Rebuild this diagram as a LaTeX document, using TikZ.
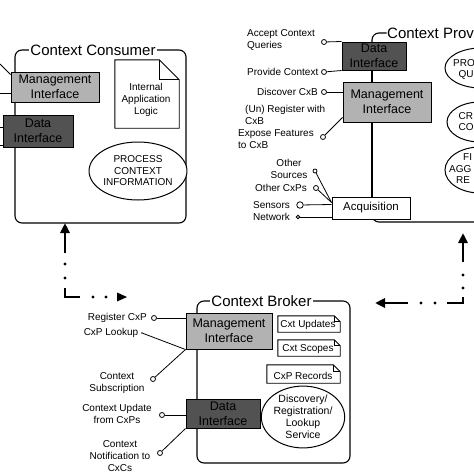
\documentclass[tikz,border=0pt]{standalone}
\usepackage{fontspec}
\setmainfont{Liberation Sans}
\usetikzlibrary{shapes.geometric,arrows.meta,calc}
\newcommand{\docframe}[2]{%
  \draw[line width=0.9pt, fill=white] (#1.north west) -- ($(#1.north east)+(-#2,0)$) -- ($(#1.north east)+(0,#2)$) -- (#1.south east) -- (#1.south west) -- cycle;
  \draw[line width=0.8pt] ($(#1.north east)+(-#2,0)$) -- ($(#1.north east)+(-#2,#2)$) -- ($(#1.north east)+(0,#2)$);}
\begin{document}
\begin{tikzpicture}[x=1pt,y=-1pt,
  box/.style={line width=1.1pt, rounded corners=7pt},
  mgmt/.style={draw, line width=1pt, fill=black!30, align=center, inner sep=0pt, font=\fontsize{12.5}{15}\selectfont},
  datai/.style={draw, line width=1pt, fill=black!68, align=center, inner sep=0pt, font=\fontsize{12.5}{15}\selectfont},
  plainbox/.style={draw, line width=1pt, fill=white, align=center, inner sep=0pt, font=\fontsize{11.5}{13}\selectfont},
  oval/.style={draw, ellipse, line width=1pt, fill=white, align=center, inner sep=0pt, font=\fontsize{10}{11.5}\selectfont},
  lbl/.style={inner sep=0pt, font=\fontsize{10}{12}\selectfont},
  edgetext/.style={inner sep=0pt, anchor=west, font=\fontsize{10}{12}\selectfont},
  port/.style={circle, draw, fill=white, line width=0.8pt, inner sep=0pt, minimum size=5pt},
  tinyport/.style={circle, fill, inner sep=0pt, minimum size=1.8pt},
  conn/.style={line width=0.8pt},
  ttl/.style={inner sep=1.5pt, font=\fontsize{15}{17}\selectfont},
  docarea/.style={inner sep=0pt},
  doctext/.style={inner sep=0pt, align=center, font=\fontsize{10}{12}\selectfont},
  big/.style={line width=2.6pt},
  bigtip/.style={-{Triangle[length=10pt,width=9pt]}},
  dotmark/.style={circle, fill, inner sep=0pt, minimum size=3.4pt}
]
\useasboundingbox (0,0) rectangle (474,474);
\clip (0,0) rectangle (474,474);

% ---------------- Context Consumer ----------------
\node[ttl] (cct) at (93,50) {Context Consumer};
\draw[box] (cct.west) -- (15,50) -- (15,223) -- (186,223) -- (186,50) -- (cct.east);

\coordinate (cl1) at (0,64);
\coordinate (cl2) at (0,93);
\coordinate (cl3) at (0,127);
\coordinate (cl4) at (0,145);

\node[mgmt, minimum width=88pt, minimum height=30pt] (cm) at (55,87) {Management\\Interface};
\node[datai, minimum width=70pt, minimum height=32pt] (cd) at (38,131) {Data\\Interface};
\draw[conn] (cl1) -- ($(cm.north west)+(0,3)$);
\draw[conn] (cl2) -- (cl2 -| cm.west);
\draw[conn] (cl3) -- (cl3 -| cd.west);
\draw[conn] (cl4) -- (cl4 -| cd.west);

\node[docarea, minimum width=64pt, minimum height=68pt] (ial) at (147,94) {};
\docframe{ial}{20}
\node[doctext] (ialt) at (146,100) {Internal\\Application\\Logic};

\node[oval, minimum width=83pt, minimum height=58pt] (pci) at (138,171) {PROCESS\\CONTEXT\\INFORMATION};

% ---------------- Context Provider ----------------
\node[ttl, anchor=west, inner sep=0.5pt] (cpt) at (386.5,33) {Context Prov};
\draw[box] (cpt.west) -- (372,33) -- (372,222) -- (490,222);

\node[oval, minimum width=72pt, minimum height=40pt] (pe1) at (481,68) {};
\node[oval, minimum width=66pt, minimum height=40pt] (pe2) at (480,122) {};
\node[oval, minimum width=70pt, minimum height=46pt] (pe3) at (480,170) {};
\node[edgetext] (pe1a) at (453,63) {PRO};
\node[edgetext] (pe1b) at (458.5,75) {QU};
\node[edgetext] (pe2a) at (458.5,116) {CR};
\node[edgetext] (pe2b) at (458.5,127.5) {CO};
\node[edgetext] (pe3a) at (463,157.5) {FI};
\node[edgetext] (pe3b) at (449,169) {AGG};
\node[edgetext] (pe3c) at (456,180.5) {RE};

\node[datai, minimum width=64pt, minimum height=28pt] (pdi) at (374,56) {Data\\Interface};
\node[mgmt, minimum width=88pt, minimum height=40pt] (pmi) at (387,102) {Management\\Interface};
\node[plainbox, minimum width=78pt, minimum height=22pt] (acq) at (371,208) {Acquisition};

\draw[line width=1.1pt] (pdi.south -| 372,0) -- (pmi.north -| 372,0);
\draw[line width=1.1pt] (pmi.south -| 372,0) -- (acq.north -| 372,0);

\node[lbl, anchor=north west, align=left] (l1) at (247,29) {Accept Context\\Queries};
\node[lbl, anchor=west] (l2) at (247,72) {Provide Context};
\node[lbl, anchor=west] (l3) at (257,92) {Discover CxB};
\node[lbl, anchor=north west, align=left] (l4) at (245,105) {(Un) Register with\\CxB};
\node[lbl, anchor=north west, align=left] (l5) at (238,129) {Expose Features\\to CxB};
\node[lbl, align=center] (l6) at (289,169) {Other\\Sources};
\node[lbl, anchor=west] (l7) at (255,188) {Other CxPs};
\node[lbl, anchor=west] (l8) at (253,205) {Sensors};
\node[lbl, anchor=west] (l9) at (253,217) {Network};

\node[port] (p1) at (324,42) {};
\node[port] (p2) at (324,72) {};
\node[port] (p3) at (324,92) {};
\node[port] (p4) at (323,137) {};
\node[port, minimum size=4pt] (p5) at (315,171) {};
\node[port] (p6) at (316,188) {};
\node[port, minimum size=6.5pt] (p7) at (300,205) {};
\node[port, minimum size=3.5pt] (p8) at (298,217) {};

\draw[conn] (p1) -- (pdi.north west);
\draw[conn] (p2) -- (pdi.south west);
\draw[conn] (p3) -- (p3 -| pmi.west);
\draw[conn] (p4) -- ($(pmi.south west)+(0,-5)$);
\draw[conn] (p5) -- ($(acq.north west)+(0,6)$);
\draw[conn] (p6) -- ($(acq.north west)+(0,6)$);
\draw[conn] (p7) -- ($(acq.north west)+(0,8)$);
\draw[conn] (p8) -- (p8 -| acq.west);

% ---------------- Context Broker ----------------
\node[ttl] (cbt) at (261.5,301) {Context Broker};
\draw[box] (cbt.west) -- (197,301) -- (197,463) -- (350,463) -- (350,301) -- (cbt.east);

\node[mgmt, minimum width=86pt, minimum height=36pt] (bmi) at (229,331) {Management\\Interface};
\node[datai, minimum width=74pt, minimum height=29pt] (bdi) at (223,413.5) {Data\\Interface};

\node[docarea, minimum width=62pt, minimum height=16pt] (d1) at (309,324) {};
\docframe{d1}{6}
\node[doctext] (d1t) at (308,325) {Cxt Updates};
\node[docarea, minimum width=62pt, minimum height=16pt] (d2) at (309,348) {};
\docframe{d2}{6}
\node[doctext] (d2t) at (308,349) {Cxt Scopes};
\node[docarea, minimum width=73pt, minimum height=18pt] (d3) at (303.5,374) {};
\docframe{d3}{7}
\node[doctext] (d3t) at (303,375.5) {CxP Records};

\node[oval, minimum width=73pt, minimum height=50pt, font=\fontsize{10.5}{12}\selectfont] (bdr) at (303,417) {Discovery/\\Registration/\\Lookup\\Service};

\node[lbl, anchor=east] (b1) at (147,318) {Register CxP};
\node[lbl] (b2) at (111,333) {CxP Lookup};
\node[lbl, align=center] (b3) at (117,383) {Context\\Subscription};
\node[lbl, align=center] (b4) at (117,413.5) {Context Update\\from CxPs};
\node[lbl, align=center] (b5) at (120,456) {Context\\Notification to\\CxCs};

\node[port] (q1) at (154,318) {};
\node[tinyport] (q2) at (142,333) {};
\node[port] (q3) at (153,379) {};
\node[port] (q4) at (162,415) {};
\node[port] (q5) at (160,453) {};

\draw[conn] (q1) -- (q1 -| bmi.west);
\draw[conn] (q2) -- (bmi.south west);
\draw[conn] (q3) -- (bmi.south west);
\draw[conn] (q4) -- (q4 -| bdi.west);
\draw[conn] (q5) -- (bdi.south west);

% ---------------- thick dash-dot arrows ----------------
\coordinate (ccb) at (65,223);
\coordinate (la0) at (65,253);
\draw[big, bigtip] (la0) -- (ccb);
\node[dotmark] (ld1) at (65,264) {};
\node[dotmark] (ld2) at (65,278) {};
\coordinate (lcs) at (65,288);
\coordinate (lc) at (65,297);
\coordinate (lce) at (80,297);
\draw[big] (lcs) -- (lc) -- (lce);
\node[dotmark] (ld3) at (93,297) {};
\node[dotmark] (ld4) at (106,297) {};
\coordinate (lt) at (127,297);
\fill (lt) -- ++(-10,-4.5) -- ++(0,9) -- cycle;

\coordinate (rtop) at (463,233);
\coordinate (r0) at (463,262);
\draw[big, bigtip] (r0) -- (rtop);
\node[dotmark] (rd1) at (463,275) {};
\node[dotmark] (rd2) at (463,288) {};
\coordinate (rcs) at (463,297);
\coordinate (rc) at (463,303);
\coordinate (rce) at (447,303);
\draw[big] (rcs) -- (rc) -- (rce);
\node[dotmark] (rd3) at (435,303) {};
\node[dotmark] (rd4) at (421,303) {};
\coordinate (ra0) at (408,303);
\coordinate (rt) at (375,303);
\draw[big, bigtip] (ra0) -- (rt);
\end{tikzpicture}
\end{document}
